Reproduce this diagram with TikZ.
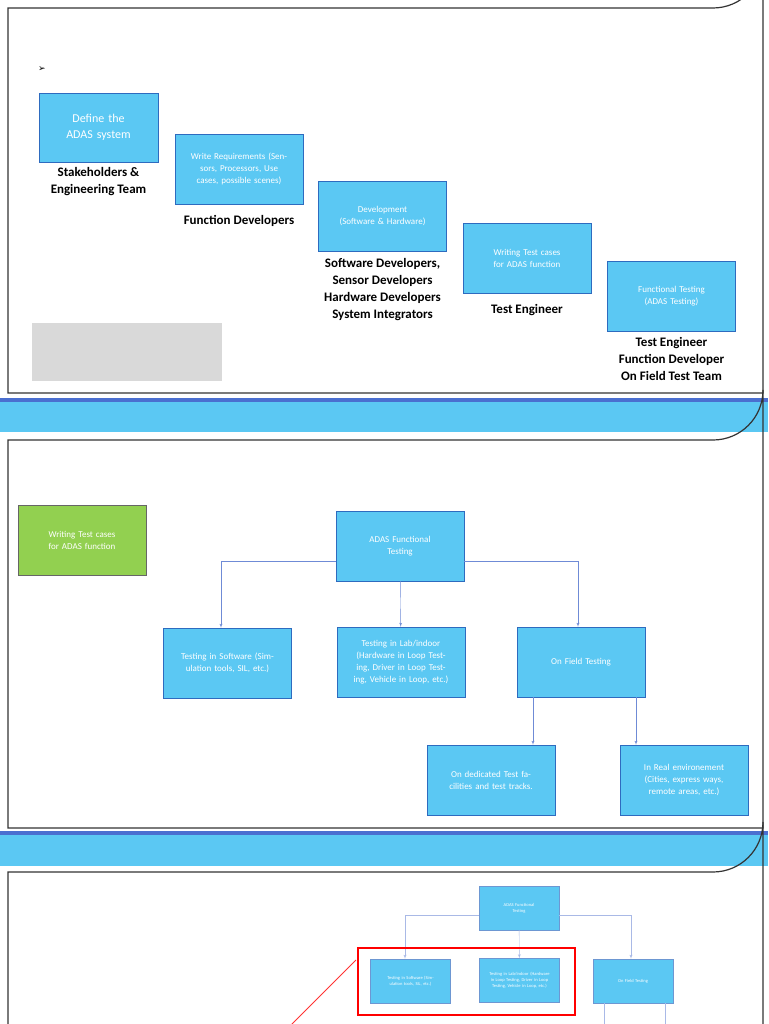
\documentclass[tikz,border=0pt]{standalone}
\usepackage{fontspec}
\setmainfont{Carlito}
\newfontfamily\symfont{DejaVu Sans}
\usetikzlibrary{arrows,positioning}
\definecolor{boxblue}{HTML}{5BC8F3}
\definecolor{edgeblue}{HTML}{2E6BBF}
\definecolor{linkblue}{HTML}{6F8BD6}
\definecolor{bandline}{HTML}{4A6FD0}
\definecolor{greenbox}{HTML}{92D050}
\tikzset{
  box/.style={draw=edgeblue,fill=boxblue,text=white,align=center,minimum width=128pt,minimum height=70pt,text width=120pt,inner sep=2pt,font=\fontsize{9}{12}\selectfont},
  mini/.style={draw=edgeblue!70,fill=boxblue,text=white,align=center,minimum width=80pt,minimum height=44pt,text width=76pt,inner sep=1pt,font=\fontsize{4.5}{6}\selectfont},
  who/.style={align=center,font=\fontsize{13}{17}\selectfont\bfseries},
  link/.style={draw=linkblue,-latex'},
  panel/.style={draw=black!80,line width=1.2pt}
}
\begin{document}
\begin{tikzpicture}[x=1pt,y=-1pt]
\useasboundingbox (0,0) rectangle (768,1024);
\fill[white] (0,0) rectangle (768,1024);
% panel frames and bands
\draw[panel] (8,393) -- (8,8) -- (713,8) arc[start angle=90,end angle=0,radius=50] -- (763,393) -- cycle;
\fill[bandline] (0,398) rectangle (768,402);
\fill[boxblue] (0,402) rectangle (768,432);
\draw[panel] (8,828) -- (8,440) -- (713,440) arc[start angle=90,end angle=0,radius=50] -- (763,828) -- cycle;
\fill[bandline] (0,831) rectangle (768,835);
\fill[boxblue] (0,835) rectangle (768,866);
\draw[panel] (8,1030) -- (8,872) -- (713,872) arc[start angle=90,end angle=0,radius=50] -- (763,1030);

% first panel: steps
\node at (42,69) {\symfont\fontsize{9}{9}\selectfont ➢};
\node[box,minimum width=119pt,minimum height=69pt,text width=110pt,font=\fontsize{12}{16}\selectfont] (define) at (98.5,127.5) {Define the ADAS system};
\node[box] (req) at (239,169) {Write Requirements (Sensors, Processors, Use cases, possible scenes)};
\node[box] (dev) at (382.5,216) {Development\\(Software \& Hardware)};
\node[box] (cases) at (527,258.5) {Writing Test cases for ADAS function};
\node[box] (func) at (671.5,296.5) {Functional Testing\\(ADAS Testing)};
\node[who,below=2pt of define] (defwho) {Stakeholders \&\\Engineering Team};
\node[who,below=8pt of req] (reqwho) {Function Developers};
\node[who,below=4pt of dev] (devwho) {Software Developers,\\Sensor Developers\\Hardware Developers\\System Integrators};
\node[who,below=7pt of cases] (caseswho) {Test Engineer};
\node[who,below=2pt of func] (funcwho) {Test Engineer\\Function Developer\\On Field Test Team};
\fill[black!15] (32,323) rectangle (222,381);

% second panel: testing tree
\node[box,fill=greenbox,draw=black!60] (write) at (82,540) {Writing Test cases for ADAS function};
\node[box] (top) at (400,546) {ADAS Functional\\Testing};
\node[box] (soft) at (227.5,663) {Testing in Software (Simulation tools, SIL, etc.)};
\node[box] (lab) at (401,662) {Testing in Lab/indoor (Hardware in Loop Testing, Driver in Loop Testing, Vehicle in Loop, etc.)};
\node[box] (field) at (581,662) {On Field Testing};
\node[box] (dedic) at (491,780) {On dedicated Test facilities and test tracks.};
\node[box] (real) at (684,780) {In Real environement (Cities, express ways, remote areas, etc.)};
\draw[link] ([yshift=-15pt]top.west) -| ([xshift=-6.5pt]soft.north);
\draw[link] (top) -- (lab);
\draw[link] ([yshift=-15pt]top.east) -| ([xshift=-3pt]field.north);
\draw[link] ([xshift=-48pt]field.south) -- ([xshift=42pt]dedic.north);
\draw[link] ([xshift=55pt]field.south) -- ([xshift=-48pt]real.north);

% third panel: reduced copy
\node[mini] (top3) at (519,908) {ADAS Functional\\Testing};
\node[mini] (soft3) at (410.5,981) {Testing in Software (Simulation tools, SIL, etc.)};
\node[mini] (lab3) at (519.5,980.5) {Testing in Lab/indoor (Hardware in Loop Testing, Driver in Loop Testing, Vehicle in Loop, etc.)};
\node[mini] (field3) at (633,981) {On Field Testing};
\draw[link,draw=linkblue!60] ([yshift=-7pt]top3.west) -| ([xshift=-5.5pt]soft3.north);
\draw[link,draw=linkblue!60] (top3) -- (lab3);
\draw[link,draw=linkblue!60] ([yshift=-7pt]top3.east) -| ([xshift=-2pt]field3.north);
\coordinate (fl) at (604,1026);
\coordinate (fr) at (665,1026);
\draw[linkblue!60] ([xshift=-29pt]field3.south) -- (fl);
\draw[linkblue!60] ([xshift=32pt]field3.south) -- (fr);
\draw[red,line width=2.5pt] (358,948) rectangle (575,1015);
\coordinate (redstart) at (356,960);
\coordinate (redend) at (290,1026);
\draw[red!80,line width=1pt] (redstart) -- (redend);
\end{tikzpicture}
\end{document}
